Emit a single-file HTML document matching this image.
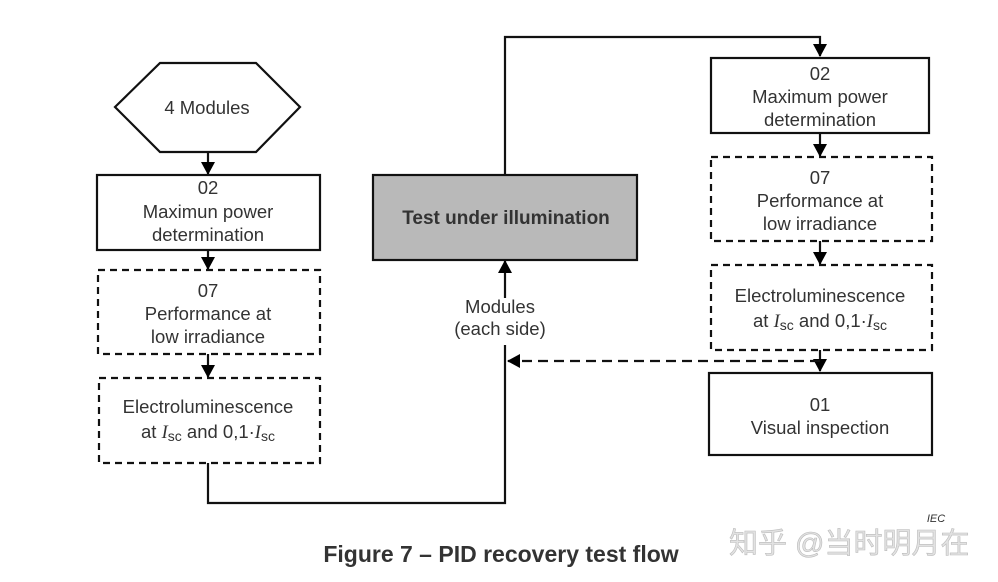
<!DOCTYPE html>
<html><head><meta charset="utf-8"><style>
html,body{margin:0;padding:0;background:#fff;}
svg{display:block;}
text{font-family:"Liberation Sans",Arial,sans-serif;fill:#333;}
</style></head><body>
<svg width="998" height="582" viewBox="0 0 998 582" xmlns="http://www.w3.org/2000/svg">
<defs>
<marker id="a" markerWidth="14" markerHeight="14" refX="12" refY="7" orient="auto" markerUnits="userSpaceOnUse">
<path d="M0,0 L13,7 L0,14 z" fill="#000"/></marker>
</defs>
<g stroke="#111" stroke-width="2.2" fill="none">
<polygon points="115,107 160,63 256,63 300,107 256,152 160,152" fill="#fff"/>
<line x1="208" y1="152" x2="208" y2="174" marker-end="url(#a)"/>
<rect x="97" y="175" width="223" height="75" fill="#fff"/>
<line x1="208" y1="250" x2="208" y2="269" marker-end="url(#a)"/>
<rect x="98" y="270" width="222" height="84" stroke-dasharray="7,5"/>
<line x1="208" y1="354" x2="208" y2="377" marker-end="url(#a)"/>
<rect x="99" y="378" width="221" height="85" stroke-dasharray="7,5"/>
<polyline points="208,463 208,503 505,503 505,345"/>
<line x1="505" y1="298" x2="505" y2="261" marker-end="url(#a)"/>
<rect x="373" y="175" width="264" height="85" fill="#b9b9b9"/>
<polyline points="505,175 505,37 820,37 820,56" marker-end="url(#a)"/>
<rect x="711" y="58" width="218" height="75" fill="#fff"/>
<line x1="820" y1="133" x2="820" y2="156" marker-end="url(#a)"/>
<rect x="711" y="157" width="221" height="84" stroke-dasharray="7,5"/>
<line x1="820" y1="241" x2="820" y2="264" marker-end="url(#a)"/>
<rect x="711" y="265" width="221" height="85" stroke-dasharray="7,5"/>
<line x1="820" y1="350" x2="820" y2="371" marker-end="url(#a)"/>
<rect x="709" y="373" width="223" height="82" fill="#fff"/>
<line x1="820" y1="361" x2="508" y2="361" stroke-dasharray="10,6" marker-end="url(#a)"/>
</g>
<g font-size="18.5" text-anchor="middle">
<text x="207" y="114">4 Modules</text>
<text x="208" y="194">02</text>
<text x="208" y="218">Maximun power</text>
<text x="208" y="241">determination</text>
<text x="208" y="297">07</text>
<text x="208" y="320">Performance at</text>
<text x="208" y="343">low irradiance</text>
<text x="208" y="413">Electroluminescence</text>
<text x="208" y="438">at <tspan font-family="Liberation Serif" font-style="italic">I</tspan><tspan font-size="14" dy="3">sc</tspan><tspan dy="-3"> and 0,1·</tspan><tspan font-family="Liberation Serif" font-style="italic">I</tspan><tspan font-size="14" dy="3">sc</tspan></text>
<text x="506" y="224" font-weight="bold" font-size="19" fill="#222">Test under illumination</text>
<text x="500" y="313">Modules</text>
<text x="500" y="335">(each side)</text>
<text x="820" y="80">02</text>
<text x="820" y="103">Maximum power</text>
<text x="820" y="126">determination</text>
<text x="820" y="184">07</text>
<text x="820" y="207">Performance at</text>
<text x="820" y="230">low irradiance</text>
<text x="820" y="302">Electroluminescence</text>
<text x="820" y="327">at <tspan font-family="Liberation Serif" font-style="italic">I</tspan><tspan font-size="14" dy="3">sc</tspan><tspan dy="-3"> and 0,1·</tspan><tspan font-family="Liberation Serif" font-style="italic">I</tspan><tspan font-size="14" dy="3">sc</tspan></text>
<text x="820" y="411">01</text>
<text x="820" y="434">Visual inspection</text>
</g>
<text x="936" y="522" font-size="11" font-style="italic" text-anchor="middle" fill="#222">IEC</text>
<text x="501" y="562" font-size="23" font-weight="bold" text-anchor="middle" fill="#111">Figure 7 – PID recovery test flow</text>
<text x="729" y="553" font-size="29" style="font-family:'Liberation Sans','Noto Sans CJK SC',sans-serif;fill:#e2e2e2;stroke:#bbb;stroke-width:0.6">知乎 @当时明月在</text>
</svg>
</body></html>
